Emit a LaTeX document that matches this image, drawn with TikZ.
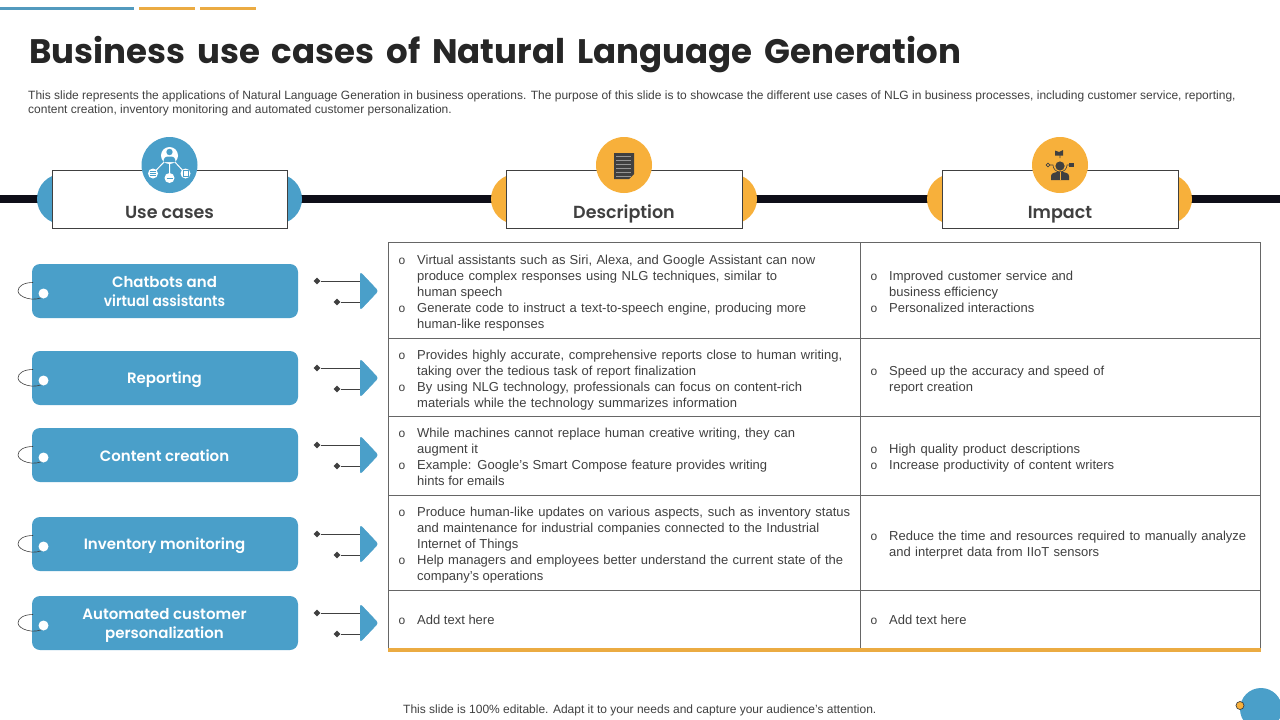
\documentclass[tikz,border=0pt]{standalone}
\usepackage{fontspec}
\setmainfont{Liberation Sans}
\newfontfamily\headfont{Poppins}[BoldFont={Poppins SemiBold}]
\newfontfamily\titlefont{Poppins}[BoldFont={Poppins Bold}]
\usetikzlibrary{shapes.geometric}
\usetikzlibrary{positioning}
\definecolor{myblue}{HTML}{4A9FC9}
\definecolor{myorange}{HTML}{F7B03B}
\definecolor{mydark}{HTML}{404040}
\definecolor{mybar}{HTML}{0E0E18}
\newcommand{\bodyfont}{\fontsize{13}{16}\selectfont}
\newcommand{\fitline}[2]{\hbox to #1pt{#2}}
\begin{document}
\begin{tikzpicture}[
    x=1pt, y=-1pt,
    font=\bodyfont,
    text=mydark
]
\tikzset{
    headbox/.style = {rectangle, draw=mydark, fill=white, minimum width=235.5pt, minimum height=58pt, inner sep=0pt, line width=0.7pt},
    headtext/.style = {font=\headfont\bfseries\fontsize{17.5}{20}\selectfont, inner sep=0pt},
    pill/.style = {rectangle, rounded corners=8pt, fill=myblue, minimum width=266pt, minimum height=54pt, inner sep=0pt},
    pilltext/.style = {text=white, align=center, inner sep=0pt, font=\headfont\bfseries\fontsize{15}{19}\selectfont},
    cell/.style = {rectangle, draw=black!60, line width=0.7pt, anchor=north west, inner sep=0pt, outer sep=0pt},
    celltext/.style = {anchor=north west, align=left, inner sep=0pt},
    dot/.style = {anchor=center, inner sep=0pt, font=\fontsize{12}{12}\selectfont},
    tipd/.style = {diamond, fill=mydark, minimum size=7pt, inner sep=0pt},
    tri/.style = {isosceles triangle, isosceles triangle stretches, fill=myblue, draw=myblue, rounded corners=2.5pt, minimum height=18pt, minimum width=38pt, inner sep=0pt, anchor=west},
    edgen/.style = {-, draw=mydark, line width=0.8pt}
}
\useasboundingbox (0,0) rectangle (1280,720);
\fill[white] (0,0) rectangle (1280,720);

\fill[myblue!85!gray] (0,7) rectangle (134,10);
\fill[myorange!90!gray] (139,7) rectangle (195,10);
\fill[myorange!90!gray] (200,7) rectangle (256,10);

\node[anchor=west, inner sep=0pt, font=\titlefont\bfseries\fontsize{34}{36}\selectfont, text=black!85] at (29,55) (title) {\fitline{932}{Business use cases of Natural Language Generation}};
\node[celltext, font=\fontsize{12}{16}\selectfont] at (28,90.5) (intro) {This slide represents the applications of Natural Language Generation in business operations. The purpose of this slide is to showcase the different use cases of NLG in business processes, including customer service, reporting,\\[-2pt]content creation, inventory monitoring and automated customer personalization.};

\fill[mybar] (0,195) rectangle (1280,203);

\foreach \cx/\lx/\rx/\col/\nm/\txt in {169.5/62/277/myblue/use/Use cases, 624/516/732/myorange/desc/Description, 1060/952/1167/myorange/imp/Impact} {
    \fill[\col] (\lx,199) circle (25);
    \fill[\col] (\rx,199) circle (25);
    \node[headbox] at (\cx+0.3,199) (box\nm) {};
    \fill[\col] (\cx,165) circle (28);
    \node[headtext, anchor=base] at (\cx,218) (lab\nm) {\txt};
}

\draw[white, line width=1pt] (165,161) -- (153,173.5) (169.5,161) -- (169.5,178) (174,161) -- (185.5,173.5);
\fill[white] (169.5,155.5) circle (8.5);
\fill[myblue] (169.5,152) circle (3.2);
\fill[myblue] (163.5,162) .. controls (163.5,157) and (166,156.5) .. (169.5,156.5) .. controls (173,156.5) and (175.5,157) .. (175.5,162) -- cycle;
\fill[white] (153,173.5) circle (5);
\fill[white] (169.5,178) circle (5);
\fill[white] (185.5,173.5) circle (5);
\draw[myblue, line width=0.7pt] (150,171.7) -- (156,171.7) (150,173.6) -- (156,173.6) (150,175.5) -- (156,175.5) (166.5,178) -- (172.5,178) (183,170.5) rectangle (188,176.5);

\fill[mydark] (614,153) -- (634,153) -- (634,174) -- (629,179) -- (614,179) -- cycle;
\foreach \ly in {156,160,164,168,172,176} {
    \draw[white!45!mydark, line width=0.4pt] (616,\ly) -- (631,\ly);
}

\draw[mydark, line width=0.6pt] (1050,165) -- (1053,165) arc (180:0:7) -- (1069,165) (1060,158) -- (1060,155);
\fill[mydark] (1060,166) circle (4.6);
\fill[mydark] (1051,180) -- (1051,176) .. controls (1051,172.5) and (1056,172.5) .. (1059,171.5) -- (1061,171.5) .. controls (1064,172.5) and (1069,172.5) .. (1069,176) -- (1069,180) -- cycle;
\draw[myorange, line width=0.7pt] (1060,172) -- (1060,180);
\fill[mydark] (1055,150.5) -- (1059,152) -- (1063,150) -- (1063,155.5) -- (1055,155.5) -- cycle;
\draw[mydark, line width=0.7pt] (1048,165) circle (1.8);
\fill[mydark] (1069,163) rectangle (1074,167);

\foreach \py/\ty/\nm/\txt in {291/291.5/chat/{Chatbots and\\\scalebox{0.92}[1]{virtual assistants}}, 378/379.5/rep/{Reporting}, 455/455.5/cont/{Content creation}, 544/545.5/inv/{Inventory monitoring}, 623/625.5/auto/{Automated customer\\personalization}} {
    \node[pill] at (165,\py) (pill\nm) {};
    \node[pilltext] at (164.5,\ty) (name\nm) {\txt};
    \draw[mydark, line width=0.6pt] (33,\py-8.5) .. controls (24,\py-8.5) and (18,\py-5) .. (18,\py) .. controls (18,\py+6) and (34,\py+12) .. (45,\py+5);
    \fill[white] (43.5,\py+2.5) circle (5);
    \node[tri] at (360,\py) (tri\nm) {};
    \node[tipd] at (317,\py-10) (ta\nm) {};
    \node[tipd] at (337,\py+11) (tb\nm) {};
    \draw[edgen] (ta\nm) -- (ta\nm -| tri\nm.west);
    \draw[edgen] (tb\nm) -- (tb\nm -| tri\nm.west);
}

\node[cell, minimum width=472pt, minimum height=96pt] at (388.5,242) (d1) {};
\node[cell, minimum width=400pt, minimum height=96pt] at (860.5,242) (i1) {};
\node[cell, minimum width=472pt, minimum height=78pt] at (388.5,338) (d2) {};
\node[cell, minimum width=400pt, minimum height=78pt] at (860.5,338) (i2) {};
\node[cell, minimum width=472pt, minimum height=79pt] at (388.5,416) (d3) {};
\node[cell, minimum width=400pt, minimum height=79pt] at (860.5,416) (i3) {};
\node[cell, minimum width=472pt, minimum height=95pt] at (388.5,495) (d4) {};
\node[cell, minimum width=400pt, minimum height=95pt] at (860.5,495) (i4) {};
\node[cell, minimum width=472pt, minimum height=59pt] at (388.5,590) (d5) {};
\node[cell, minimum width=400pt, minimum height=59pt] at (860.5,590) (i5) {};
\fill[myorange!90!gray] (388,648) rectangle (1261,652);

\node[celltext] at (417,255) (td1) {\fitline{398}{Virtual assistants such as Siri, Alexa, and Google Assistant can now}\\\fitline{360}{produce complex responses using NLG techniques, similar to}\\human speech\\\fitline{389}{Generate code to instruct a text-to-speech engine, producing more}\\human-like responses};
\node[celltext] at (889,271) (ti1) {\fitline{184}{Improved customer service and}\\business efficiency\\Personalized interactions};
\node[celltext] at (417,350) (td2) {\fitline{425}{Provides highly accurate, comprehensive reports close to human writing,}\\\fitline{279}{taking over the tedious task of report finalization}\\\fitline{385}{By using NLG technology, professionals can focus on content-rich}\\\fitline{320}{materials while the technology summarizes information}};
\node[celltext] at (889,366) (ti2) {\fitline{215}{Speed up the accuracy and speed of}\\report creation};
\node[celltext] at (417,428) (td3) {\fitline{378}{While machines cannot replace human creative writing, they can}\\augment it\\\fitline{350}{Example: Google's Smart Compose feature provides writing}\\hints for emails};
\node[celltext] at (889,444) (ti3) {\fitline{191}{High quality product descriptions}\\\fitline{225}{Increase productivity of content writers}};
\node[celltext] at (417,507) (td4) {\fitline{433}{Produce human-like updates on various aspects, such as inventory status}\\\fitline{402}{and maintenance for industrial companies connected to the Industrial}\\Internet of Things\\\fitline{426}{Help managers and employees better understand the current state of the}\\company's operations};
\node[celltext] at (889,531) (ti4) {\fitline{357}{Reduce the time and resources required to manually analyze}\\\fitline{210}{and interpret data from IIoT sensors}};
\node[celltext] at (417,615) (td5) {Add text here};
\node[celltext] at (889,615) (ti5) {Add text here};

\foreach \bx/\by/\nm in {402/261/ba, 402/309/bb, 874/277/bc, 874/309/bd, 402/356/be, 402/388/bf, 874/372/bg, 402/434/bh, 402/466/bi, 874/450/bj, 874/466/bk, 402/513/bl, 402/561/bm, 874/537/bn, 402/621/bo, 874/621/bp} {
    \node[dot] at (\bx,\by) (\nm) {o};
}

\node[anchor=base west, inner sep=0pt, font=\fontsize{12}{16}\selectfont] at (403,713) (foot) {This slide is 100\% editable. Adapt it to your needs and capture your audience's attention.};

\fill[myblue] (1261,709) circle (21);
\filldraw[fill=myorange, draw=mydark, line width=0.7pt] (1240,705.5) circle (4);
\end{tikzpicture}
\end{document}
